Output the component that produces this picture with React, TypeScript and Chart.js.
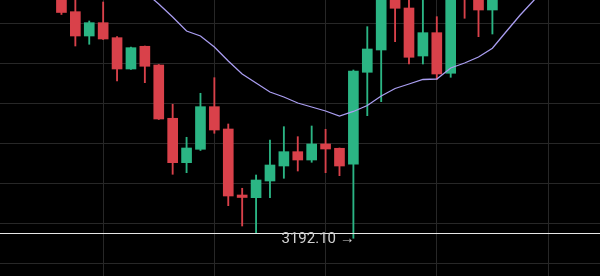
import React, { useEffect, useRef } from "react";
import { Chart, registerables } from "chart.js";

Chart.register(...registerables);

// OHLC per candle (index 0 = first visible candle)
const opens = [3252.85, 3247.43, 3241.35, 3244.68, 3240.93, 3233.1, 3238.78, 3234.1, 3220.78, 3209.68, 3213.03, 3223.68, 3218.1, 3201.6, 3200.93, 3205.1, 3208.85, 3212.43, 3210.35, 3214.35, 3213.28, 3209.28, 3232.28, 3237.85, 3251.6, 3248.35, 3236.35, 3242.18, 3232.03, 3252.85, 3254.1, 3247.85];
const highs = [3255.35, 3250.85, 3245.1, 3249.85, 3241.23, 3238.6, 3238.85, 3234.23, 3224.28, 3216.03, 3227.03, 3230.93, 3219.35, 3203.28, 3206.6, 3215.35, 3218.68, 3216.18, 3218.85, 3218.03, 3213.35, 3232.85, 3243.68, 3254.1, 3252.85, 3250.85, 3250.85, 3246.18, 3254.1, 3255.0, 3255.35, 3255.35];
const lows = [3246.73, 3238.85, 3239.28, 3240.48, 3230.1, 3232.98, 3229.68, 3220.48, 3206.78, 3207.18, 3212.73, 3217.03, 3198.93, 3193.85, 3192.18, 3200.93, 3205.78, 3207.6, 3209.78, 3207.18, 3206.43, 3190.78, 3221.43, 3224.93, 3239.93, 3234.35, 3234.35, 3230.48, 3231.03, 3245.78, 3241.18, 3241.85];
const closes = [3247.23, 3241.35, 3244.68, 3240.6, 3233.1, 3238.43, 3233.78, 3220.6, 3209.68, 3213.35, 3223.68, 3217.85, 3201.35, 3200.98, 3205.35, 3209.1, 3212.43, 3210.35, 3214.35, 3213.1, 3208.85, 3232.6, 3238.1, 3252.35, 3248.28, 3236.03, 3242.18, 3231.85, 3252.35, 3251.1, 3247.85, 3253.35];

// Moving average, starting at candle index maStart
const maStart = 6;
const maValues = [3252.35, 3249.35, 3246.1, 3242.6, 3241.35, 3238.6, 3235.1, 3231.85, 3229.6, 3227.35, 3226.1, 3224.6, 3223.6, 3222.6, 3221.35, 3222.48, 3223.98, 3226.35, 3228.23, 3229.35, 3230.48, 3230.6, 3233.35, 3234.6, 3236.1, 3238.28, 3242.48, 3246.6, 3250.35, 3254.1];

// Price line
const lastPrice = 3192.1;
const lastPriceLabel = "3192.10 →";

// Grid positions
const xGrid = [3, 11, 19, 27, 35];
const yGrid = [3244.6, 3234.6, 3224.6, 3214.6, 3204.6, 3194.6, 3184.6];

const X_MIN = -4.42;
const X_MAX = 38.74;
const Y_MIN = 3181.35;
const Y_MAX = 3250.35;
const LABEL_X = 15.83;

const GREEN = "#2bb584";
const RED = "#d9414a";
const MA_COLOR = "#a99df0";
const GRID = "#272727";

export default function App() {
  const ref = useRef<HTMLCanvasElement | null>(null);

  useEffect(() => {
    if (!ref.current) return;
    const colors = opens.map((o, i) => (closes[i] >= o ? GREEN : RED));
    const bodies = opens.map((o, i) => ({ x: i, y: [o, closes[i]] }));
    const wicks = opens.map((_, i) => ({ x: i, y: [lows[i], highs[i]] }));
    const ma = maValues.map((v, k) => ({ x: maStart + k, y: v }));

    const priceLine = {
      id: "priceLine",
      afterDatasetsDraw(chart: any) {
        const { ctx, chartArea, scales } = chart;
        const y = Math.round(scales.y.getPixelForValue(lastPrice)) + 0.5;
        ctx.save();
        ctx.strokeStyle = "#e6e6e6";
        ctx.lineWidth = 1;
        ctx.beginPath();
        ctx.moveTo(chartArea.left, y);
        ctx.lineTo(chartArea.right, y);
        ctx.stroke();
        ctx.fillStyle = "#d2d2d2";
        ctx.font = "15px Roboto, 'Noto Sans', sans-serif";
        ctx.textAlign = "left";
        ctx.textBaseline = "alphabetic";
        ctx.fillText(lastPriceLabel, scales.x.getPixelForValue(LABEL_X), y + 9);
        ctx.restore();
      },
    };

    const chart = new Chart(ref.current, {
      type: "bar",
      data: {
        datasets: [
          {
            type: "line",
            data: ma,
            borderColor: MA_COLOR,
            borderWidth: 1.3,
            pointRadius: 0,
            tension: 0,
            order: 0,
          } as any,
          {
            data: bodies,
            backgroundColor: colors,
            barThickness: 10,
            grouped: false,
            order: 1,
          } as any,
          {
            data: wicks,
            backgroundColor: colors,
            barThickness: 1.2,
            grouped: false,
            order: 2,
          } as any,
        ],
      },
      options: {
        animation: false,
        responsive: false,
        maintainAspectRatio: false,
        layout: { padding: 0 },
        plugins: { legend: { display: false }, tooltip: { enabled: false } },
        scales: {
          x: {
            type: "linear",
            min: X_MIN,
            max: X_MAX,
            offset: false,
            grid: { color: GRID, drawTicks: false, offset: false },
            border: { display: false },
            ticks: { display: false },
            afterBuildTicks: (s: any) => {
              s.ticks = xGrid.map((v) => ({ value: v }));
            },
          },
          y: {
            type: "linear",
            min: Y_MIN,
            max: Y_MAX,
            grid: { color: GRID, drawTicks: false },
            border: { display: false },
            ticks: { display: false },
            afterBuildTicks: (s: any) => {
              s.ticks = yGrid.map((v) => ({ value: v }));
            },
          },
        },
      } as any,
      plugins: [priceLine],
    });
    return () => chart.destroy();
  }, []);

  return (
    <div style={{ position: "fixed", left: 0, top: 0, width: 600, height: 276, background: "#000" }}>
      <canvas ref={ref} width={600} height={276} style={{ width: 600, height: 276, display: "block" }} />
    </div>
  );
}
